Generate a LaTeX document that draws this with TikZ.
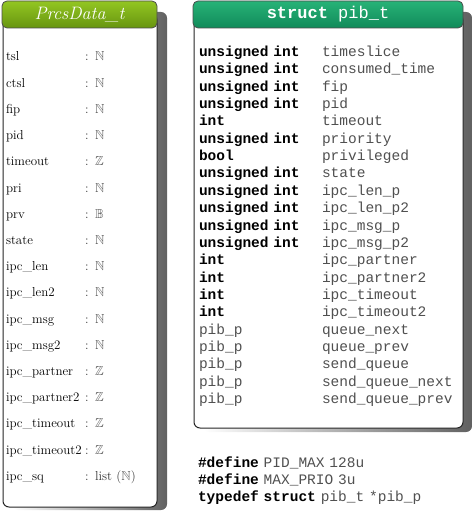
\documentclass[tikz,border=0pt]{standalone}
\usepackage{amssymb}
\usepackage{fontspec}
\setmonofont{Liberation Mono}
\usetikzlibrary{positioning}

\definecolor{limehi}{HTML}{93C622}
\definecolor{limelo}{HTML}{679510}
\definecolor{jadehi}{HTML}{27B377}
\definecolor{jadelo}{HTML}{118A5A}
\definecolor{codegray}{HTML}{505050}

\newcommand{\natset}{\textcolor{black!65}{$\mathbb{N}$}}
\newcommand{\intset}{\textcolor{black!65}{$\mathbb{Z}$}}
\newcommand{\boolset}{\textcolor{black!65}{$\mathbb{B}$}}

\begin{document}
\begin{tikzpicture}[
  x=1pt, y=-1pt,
  node distance=26.2pt,
  frame/.style={rectangle, rounded corners=6pt, draw=black!85, line width=1pt, fill=white, inner sep=0pt},
  title/.style={rectangle, rounded corners=5pt, draw=black!70, line width=0.8pt, minimum height=27pt, inner sep=0pt},
  shade/.style={rounded corners=6pt, left color=white, right color=black!62},
  fld/.style={text width=76pt, align=left, inner sep=0pt, text height=9pt, text depth=3pt, font=\fontsize{13}{15}\selectfont},
  dom/.style={text width=60pt, align=left, inner sep=0pt, text height=9pt, text depth=3pt, text=black!80, font=\fontsize{13}{15}\selectfont},
  typ/.style={text width=123pt, align=left, inner sep=0pt, text height=10pt, text depth=3pt, font=\ttfamily\fontsize{14.5}{17}\selectfont},
  nam/.style={text width=140pt, align=left, inner sep=0pt, text height=10pt, text depth=3pt, text=codegray, font=\ttfamily\fontsize{14.5}{17}\selectfont},
  code/.style={text width=270pt, align=left, inner sep=0pt, text height=10pt, text depth=3pt, font=\ttfamily\fontsize{14.5}{17}\selectfont}
]
\useasboundingbox (0,0) rectangle (474,516);

% left box
\path[shade] (12,12) rectangle (167,510);
\node[frame, minimum width=154pt, minimum height=493pt] (lbody) at (80,260.5) {};
\node[title, top color=limehi, bottom color=limelo, minimum width=155pt, text=white,
      font=\fontsize{18}{21}\selectfont\itshape] (lhead) at (79.5,14.5) {PrcsData\_t};

\node[fld] (tsl) at (44,58) {tsl};
\node[fld, below of=tsl] (ctsl) {ctsl};
\node[fld, below of=ctsl] (fip) {fip};
\node[fld, below of=fip] (pid) {pid};
\node[fld, below of=pid] (tmo) {timeout};
\node[fld, below of=tmo] (pri) {pri};
\node[fld, below of=pri] (prv) {prv};
\node[fld, below of=prv] (state) {state};
\node[fld, below of=state] (len) {ipc\_len};
\node[fld, below of=len] (lentwo) {ipc\_len2};
\node[fld, below of=lentwo] (msg) {ipc\_msg};
\node[fld, below of=msg] (msgtwo) {ipc\_msg2};
\node[fld, below of=msgtwo] (ptn) {ipc\_partner};
\node[fld, below of=ptn] (ptntwo) {ipc\_partner2};
\node[fld, below of=ptntwo] (itmo) {ipc\_timeout};
\node[fld, below of=itmo] (itmotwo) {ipc\_timeout2};
\node[fld, below of=itmotwo] (sq) {ipc\_sq};

\node[dom, right of=tsl, node distance=71pt] (tslD) {: \natset};
\node[dom, right of=ctsl, node distance=71pt] (ctslD) {: \natset};
\node[dom, right of=fip, node distance=71pt] (fipD) {: \natset};
\node[dom, right of=pid, node distance=71pt] (pidD) {: \natset};
\node[dom, right of=tmo, node distance=71pt] (tmoD) {: \intset};
\node[dom, right of=pri, node distance=71pt] (priD) {: \natset};
\node[dom, right of=prv, node distance=71pt] (prvD) {: \boolset};
\node[dom, right of=state, node distance=71pt] (stateD) {: \natset};
\node[dom, right of=len, node distance=71pt] (lenD) {: \natset};
\node[dom, right of=lentwo, node distance=71pt] (lentwoD) {: \natset};
\node[dom, right of=msg, node distance=71pt] (msgD) {: \natset};
\node[dom, right of=msgtwo, node distance=71pt] (msgtwoD) {: \natset};
\node[dom, right of=ptn, node distance=71pt] (ptnD) {: \intset};
\node[dom, right of=ptntwo, node distance=71pt] (ptntwoD) {: \intset};
\node[dom, right of=itmo, node distance=71pt] (itmoD) {: \intset};
\node[dom, right of=itmotwo, node distance=71pt] (itmotwoD) {: \intset};
\node[dom, right of=sq, node distance=71pt] (sqD) {: list (\natset)};

% right box
\path[shade] (203,12) rectangle (472,432);
\node[frame, minimum width=269pt, minimum height=414pt] (rbody) at (328.5,221) {};
\node[title, top color=jadehi, bottom color=jadelo, minimum width=270pt, text=white,
      font=\ttfamily\fontsize{17}{20}\selectfont] (rhead) at (328,14.5) {\textbf{struct} pib\_t};

\begin{scope}[node distance=17.35pt]
\node[typ] (ty1) at (260.5,53) {\textbf{unsigned int}};
\node[typ, below of=ty1] (ty2) {\textbf{unsigned int}};
\node[typ, below of=ty2] (ty3) {\textbf{unsigned int}};
\node[typ, below of=ty3] (ty4) {\textbf{unsigned int}};
\node[typ, below of=ty4] (ty5) {\textbf{int}};
\node[typ, below of=ty5] (ty6) {\textbf{unsigned int}};
\node[typ, below of=ty6] (ty7) {\textbf{bool}};
\node[typ, below of=ty7] (ty8) {\textbf{unsigned int}};
\node[typ, below of=ty8] (ty9) {\textbf{unsigned int}};
\node[typ, below of=ty9] (ty10) {\textbf{unsigned int}};
\node[typ, below of=ty10] (ty11) {\textbf{unsigned int}};
\node[typ, below of=ty11] (ty12) {\textbf{unsigned int}};
\node[typ, below of=ty12] (ty13) {\textbf{int}};
\node[typ, below of=ty13] (ty14) {\textbf{int}};
\node[typ, below of=ty14] (ty15) {\textbf{int}};
\node[typ, below of=ty15] (ty16) {\textbf{int}};
\node[typ, below of=ty16, text=codegray] (ty17) {pib\_p};
\node[typ, below of=ty17, text=codegray] (ty18) {pib\_p};
\node[typ, below of=ty18, text=codegray] (ty19) {pib\_p};
\node[typ, below of=ty19, text=codegray] (ty20) {pib\_p};
\node[typ, below of=ty20, text=codegray] (ty21) {pib\_p};

\node[nam, right of=ty1, node distance=131.5pt] (nm1) {timeslice};
\node[nam, right of=ty2, node distance=131.5pt] (nm2) {consumed\_time};
\node[nam, right of=ty3, node distance=131.5pt] (nm3) {fip};
\node[nam, right of=ty4, node distance=131.5pt] (nm4) {pid};
\node[nam, right of=ty5, node distance=131.5pt] (nm5) {timeout};
\node[nam, right of=ty6, node distance=131.5pt] (nm6) {priority};
\node[nam, right of=ty7, node distance=131.5pt] (nm7) {privileged};
\node[nam, right of=ty8, node distance=131.5pt] (nm8) {state};
\node[nam, right of=ty9, node distance=131.5pt] (nm9) {ipc\_len\_p};
\node[nam, right of=ty10, node distance=131.5pt] (nm10) {ipc\_len\_p2};
\node[nam, right of=ty11, node distance=131.5pt] (nm11) {ipc\_msg\_p};
\node[nam, right of=ty12, node distance=131.5pt] (nm12) {ipc\_msg\_p2};
\node[nam, right of=ty13, node distance=131.5pt] (nm13) {ipc\_partner};
\node[nam, right of=ty14, node distance=131.5pt] (nm14) {ipc\_partner2};
\node[nam, right of=ty15, node distance=131.5pt] (nm15) {ipc\_timeout};
\node[nam, right of=ty16, node distance=131.5pt] (nm16) {ipc\_timeout2};
\node[nam, right of=ty17, node distance=131.5pt] (nm17) {queue\_next};
\node[nam, right of=ty18, node distance=131.5pt] (nm18) {queue\_prev};
\node[nam, right of=ty19, node distance=131.5pt] (nm19) {send\_queue};
\node[nam, right of=ty20, node distance=131.5pt] (nm20) {send\_queue\_next};
\node[nam, right of=ty21, node distance=131.5pt] (nm21) {send\_queue\_prev};
\end{scope}

% defines below the struct
\node[code] (def1) at (333,464) {\textbf{\#define} \textcolor{codegray}{PID\_MAX 128u}};
\node[code, below of=def1, node distance=17pt] (def2) {\textbf{\#define} \textcolor{codegray}{MAX\_PRIO 3u}};
\node[code, below of=def2, node distance=17pt] (def3) {\textbf{typedef struct} \textcolor{codegray}{pib\_t *pib\_p}};
\end{tikzpicture}
\end{document}
